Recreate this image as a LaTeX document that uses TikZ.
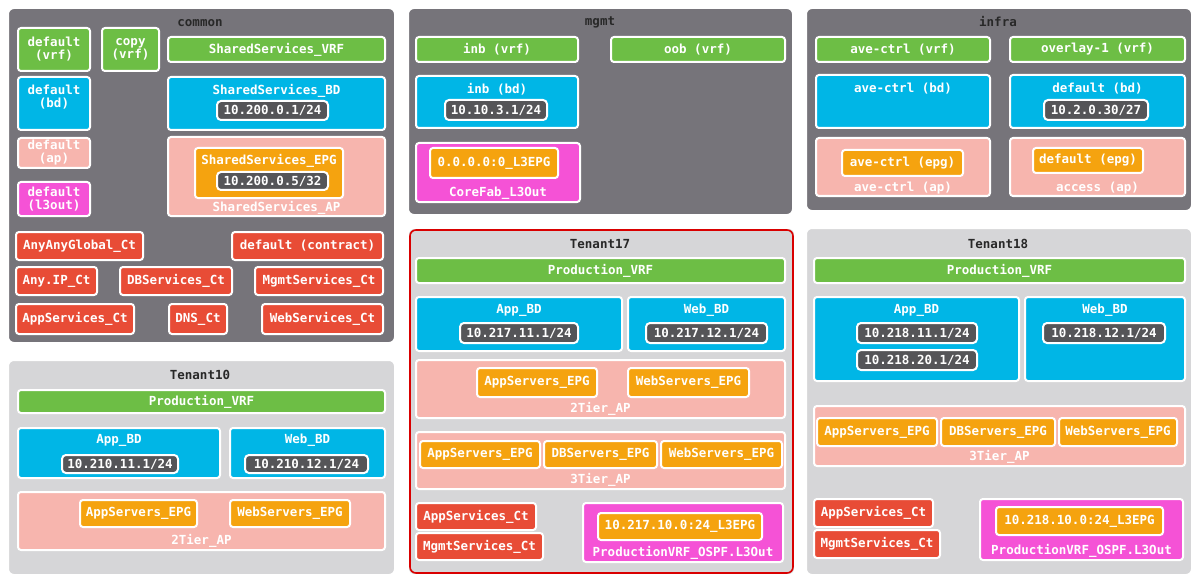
\documentclass[tikz,border=0pt]{standalone}
\usepackage{fontspec}
\setmonofont{DejaVu Sans Mono}
\usetikzlibrary{positioning}
\definecolor{panelDark}{RGB}{118,116,122}
\definecolor{panelLight}{RGB}{214,214,216}
\definecolor{vrfGreen}{RGB}{109,190,69}
\definecolor{bdBlue}{RGB}{0,182,230}
\definecolor{apPink}{RGB}{247,181,174}
\definecolor{outMag}{RGB}{245,82,214}
\definecolor{epgOrange}{RGB}{245,163,15}
\definecolor{ctRed}{RGB}{232,76,54}
\definecolor{ipGray}{RGB}{85,85,88}
\definecolor{titleInk}{RGB}{40,40,40}

\tikzset{
  base/.style={draw=white, line width=2pt, rounded corners=3pt, inner sep=0pt, outer sep=0pt,
    anchor=north west, text=white, font=\ttfamily\bfseries\fontsize{12.5}{13}\selectfont, align=center},
  panel/.style={base, draw=white, fill=panelDark, rounded corners=6pt},
  lpanel/.style={base, draw=white, fill=panelLight, rounded corners=6pt},
  vrf/.style={base, fill=vrfGreen},
  bd/.style={base, fill=bdBlue},
  ap/.style={base, fill=apPink},
  lout/.style={base, fill=outMag},
  epg/.style={base, fill=epgOrange},
  ct/.style={base, fill=ctRed},
  ip/.style={base, fill=ipGray, rounded corners=4pt},
  ttl/.style={font=\ttfamily\bfseries\fontsize{12.5}{13}\selectfont, text=titleInk, inner sep=0pt},
  hdr/.style={font=\ttfamily\bfseries\fontsize{12.5}{13}\selectfont, text=white, inner sep=0pt},
}
% \bx{name}{style}{x1}{y1}{x2}{y2}{text}
\newcommand\bx[7]{\node[#2, minimum width=#5pt-#3pt, minimum height=#6pt-#4pt] (#1) at (#3,#4) {#7};}

\begin{document}
\begin{tikzpicture}[x=1pt, y=-1pt]
\useasboundingbox (0,0) rectangle (1200,583);

% common
\bx{common}{panel}{8}{8}{395}{343}{}
\node[ttl] at (200,23) {common};
\bx{cdvrf}{vrf}{18}{28}{90}{71}{default\\(vrf)}
\bx{ccvrf}{vrf}{102}{28}{159}{71}{copy\\(vrf)}
\bx{ssvrf}{vrf}{168}{37}{385}{62}{SharedServices\_VRF}
\bx{cdbd}{bd}{18}{77}{90}{130}{}
\node[hdr, below=8pt of cdbd.north, align=center] {default\\(bd)};
\bx{ssbd}{bd}{168}{77}{385}{130}{}
\node[hdr, below=7pt of ssbd.north] {SharedServices\_BD};
\bx{ssip}{ip}{217}{101}{328}{120}{10.200.0.1/24}
\bx{cdap}{ap}{18}{138}{90}{168}{default\\(ap)}
\bx{ssap}{ap}{168}{137}{385}{216}{}
\bx{ssepg}{epg}{195}{148}{343}{198}{}
\node[hdr, below=6pt of ssepg.north] {SharedServices\_EPG};
\bx{ssepgip}{ip}{217}{172}{328}{190}{10.200.0.5/32}
\node[hdr, above=1pt of ssap.south] {SharedServices\_AP};
\bx{cdout}{lout}{18}{182}{90}{216}{default\\(l3out)}
\bx{cany}{ct}{16}{232}{143}{260}{AnyAnyGlobal\_Ct}
\bx{cdct}{ct}{232}{232}{383}{260}{default (contract)}
\bx{cip}{ct}{16}{267}{97}{295}{Any.IP\_Ct}
\bx{cdb}{ct}{120}{267}{232}{295}{DBServices\_Ct}
\bx{cmg}{ct}{255}{267}{383}{295}{MgmtServices\_Ct}
\bx{capp}{ct}{16}{304}{134}{334}{AppServices\_Ct}
\bx{cdns}{ct}{169}{304}{227}{334}{DNS\_Ct}
\bx{cweb}{ct}{262}{304}{383}{334}{WebServices\_Ct}

% Tenant10
\bx{tten}{lpanel}{8}{360}{395}{575}{}
\node[ttl] at (200,375) {Tenant10};
\bx{tavrf}{vrf}{18}{390}{385}{413}{Production\_VRF}
\bx{taapp}{bd}{18}{428}{220}{478}{}
\node[hdr, below=6pt of taapp.north] {App\_BD};
\bx{taappip}{ip}{62}{455}{178}{473}{10.210.11.1/24}
\bx{taweb}{bd}{230}{428}{385}{478}{}
\node[hdr, below=6pt of taweb.north] {Web\_BD};
\bx{tawebip}{ip}{245}{455}{368}{473}{10.210.12.1/24}
\bx{taap}{ap}{18}{492}{385}{550}{}
\bx{taappepg}{epg}{80}{500}{197}{527}{AppServers\_EPG}
\bx{tawebepg}{epg}{230}{500}{350}{527}{WebServers\_EPG}
\node[hdr, above=2pt of taap.south] {2Tier\_AP};

% mgmt
\bx{mgmt}{panel}{408}{8}{793}{215}{}
\node[ttl] at (600,22) {mgmt};
\bx{minb}{vrf}{416}{37}{578}{62}{inb (vrf)}
\bx{moob}{vrf}{611}{37}{785}{62}{oob (vrf)}
\bx{minbbd}{bd}{416}{76}{578}{128}{}
\node[hdr, below=7pt of minbbd.north] {inb (bd)};
\bx{minbip}{ip}{445}{100}{547}{120}{10.10.3.1/24}
\bx{mout}{lout}{416}{143}{580}{202}{}
\bx{mepg}{epg}{430}{148}{558}{178}{0.0.0.0:0\_L3EPG}
\node[hdr, above=2pt of mout.south] {CoreFab\_L3Out};

% infra
\bx{infra}{panel}{806}{8}{1192}{211}{}
\node[ttl] at (998,22) {infra};
\bx{iavrf}{vrf}{816}{37}{990}{62}{ave-ctrl (vrf)}
\bx{iovrf}{vrf}{1010}{37}{1185}{62}{overlay-1 (vrf)}
\bx{iabd}{bd}{816}{75}{990}{128}{}
\node[hdr, below=8pt of iabd.north] {ave-ctrl (bd)};
\bx{idbd}{bd}{1010}{75}{1185}{128}{}
\node[hdr, below=8pt of idbd.north] {default (bd)};
\bx{idip}{ip}{1044}{100}{1148}{120}{10.2.0.30/27}
\bx{iaap}{ap}{816}{138}{990}{196}{}
\bx{iaepg}{epg}{842}{150}{963}{176}{ave-ctrl (epg)}
\node[hdr, above=2pt of iaap.south] {ave-ctrl (ap)};
\bx{iacc}{ap}{1010}{138}{1185}{196}{}
\bx{idepg}{epg}{1033}{148}{1143}{173}{default (epg)}
\node[hdr, above=2pt of iacc.south] {access (ap)};

% Tenant17
\bx{tsev}{lpanel}{408}{228}{795}{575}{}
\draw[red!85!black, line width=1.6pt, rounded corners=6pt] (410,230) rectangle (793,573);
\node[ttl] at (600,244) {Tenant17};
\bx{tsvrf}{vrf}{416}{258}{785}{283}{Production\_VRF}
\bx{tsapp}{bd}{416}{297}{622}{351}{}
\node[hdr, below=7pt of tsapp.north] {App\_BD};
\bx{tsappip}{ip}{460}{323}{578}{343}{10.217.11.1/24}
\bx{tsweb}{bd}{628}{297}{785}{351}{}
\node[hdr, below=7pt of tsweb.north] {Web\_BD};
\bx{tswebip}{ip}{646}{323}{767}{343}{10.217.12.1/24}
\bx{tstwo}{ap}{416}{360}{785}{418}{}
\bx{tstwoapp}{epg}{477}{368}{597}{397}{AppServers\_EPG}
\bx{tstwoweb}{epg}{628}{368}{749}{397}{WebServers\_EPG}
\node[hdr, above=2pt of tstwo.south] {2Tier\_AP};
\bx{tsthree}{ap}{416}{432}{785}{489}{}
\bx{tsthreeapp}{epg}{420}{441}{540}{468}{AppServers\_EPG}
\bx{tsthreedb}{epg}{544}{441}{657}{468}{DBServers\_EPG}
\bx{tsthreeweb}{epg}{661}{441}{782}{468}{WebServers\_EPG}
\node[hdr, above=2pt of tsthree.south] {3Tier\_AP};
\bx{tsappct}{ct}{416}{503}{536}{530}{AppServices\_Ct}
\bx{tsmgct}{ct}{416}{533}{543}{560}{MgmtServices\_Ct}
\bx{tsout}{lout}{583}{503}{783}{562}{}
\bx{tsoutepg}{epg}{598}{513}{762}{540}{10.217.10.0:24\_L3EPG}
\node[hdr, above=2pt of tsout.south] {ProductionVRF\_OSPF.L3Out};

% Tenant18
\bx{tei}{lpanel}{806}{228}{1192}{575}{}
\node[ttl] at (998,244) {Tenant18};
\bx{tevrf}{vrf}{814}{258}{1185}{283}{Production\_VRF}
\bx{teapp}{bd}{814}{297}{1019}{381}{}
\node[hdr, below=7pt of teapp.north] {App\_BD};
\bx{teappipa}{ip}{857}{323}{977}{343}{10.218.11.1/24}
\bx{teappipb}{ip}{857}{350}{977}{370}{10.218.20.1/24}
\bx{teweb}{bd}{1025}{297}{1185}{381}{}
\node[hdr, below=7pt of teweb.north] {Web\_BD};
\bx{tewebip}{ip}{1043}{323}{1165}{343}{10.218.12.1/24}
\bx{tethree}{ap}{814}{406}{1185}{466}{}
\bx{tethreeapp}{epg}{817}{418}{937}{446}{AppServers\_EPG}
\bx{tethreedb}{epg}{941}{418}{1055}{446}{DBServers\_EPG}
\bx{tethreeweb}{epg}{1059}{418}{1177}{446}{WebServers\_EPG}
\node[hdr, above=2pt of tethree.south] {3Tier\_AP};
\bx{teappct}{ct}{814}{499}{933}{527}{AppServices\_Ct}
\bx{temgct}{ct}{814}{530}{940}{558}{MgmtServices\_Ct}
\bx{teout}{lout}{980}{499}{1183}{560}{}
\bx{teoutepg}{epg}{996}{507}{1163}{535}{10.218.10.0:24\_L3EPG}
\node[hdr, above=2pt of teout.south] {ProductionVRF\_OSPF.L3Out};
\end{tikzpicture}
\end{document}
